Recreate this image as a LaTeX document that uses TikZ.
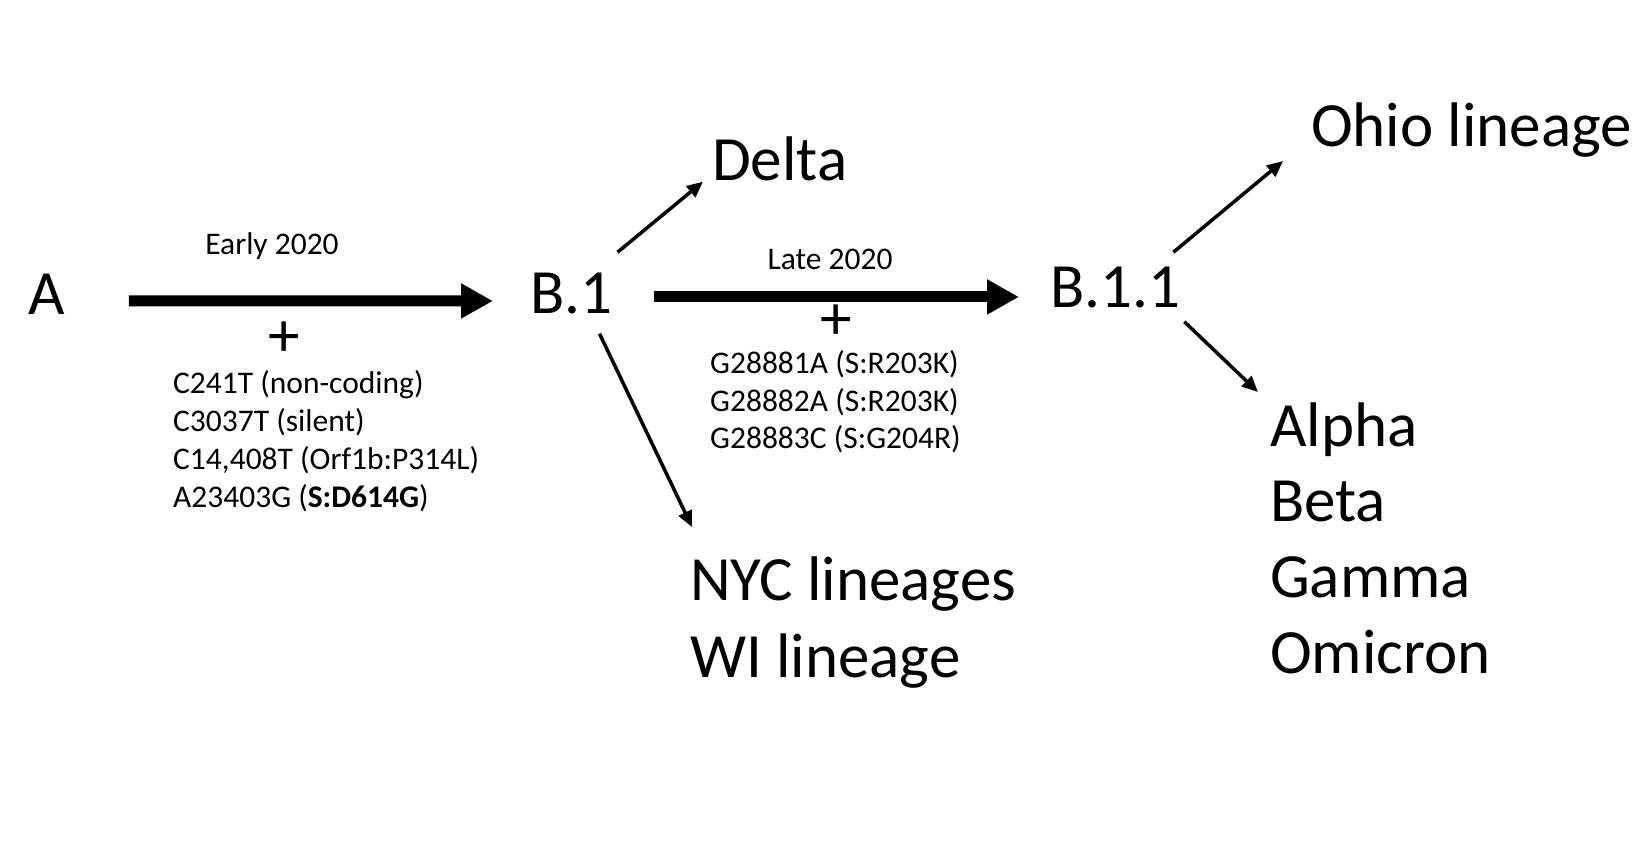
\documentclass[tikz,border=0pt]{standalone}
\usepackage{fontspec}
\setmainfont{Carlito}
\usetikzlibrary{arrows.meta}

\begin{document}
\begin{tikzpicture}[x=1pt, y=-1pt,
        big/.style={inner sep=0pt, font=\fontsize{63}{75}\selectfont},
        small/.style={inner sep=0pt, font=\fontsize{31.5}{38}\selectfont},
        fat/.style={line width=11pt, -{Triangle[length=32pt,width=33pt]}},
        branch/.style={line width=3.5pt, -{Triangle[length=16pt,width=14pt]}}]
                        \useasboundingbox (0,0) rectangle (1646,842);
                        % lineages
                        \node[big, anchor=base west] (a) at (28,315) {A};
                        \node[big, anchor=base west] (b1) at (530,313) {B.1};
                        \node[big, anchor=base west] (b11) at (1050,308) {B.1.1};
                        \node[big, anchor=base west] (delta) at (712,181) {Delta};
                        \node[big, anchor=base west] (nyc) at (690,600) {NYC lineages};
                        \node[big, anchor=base west] (wi) at (690,677) {WI lineage};
                        \node[big, anchor=base west] (ohio) at (1311,147) {Ohio lineage};
                        \foreach \voc [count=\i] in {Alpha, Beta, Gamma, Omicron}
                                \node[big, anchor=base west] (voc\i) at (1270,{446+75.7*(\i-1)}) {\voc};
                        % mutations
                        \node[small, anchor=base] (early) at (272,255) {Early 2020};
                        \node[big] (plus1) at (284,339) {+};
                        \foreach \mut [count=\i] in {C241T (non-coding), C3037T (silent), {C14,408T (Orf1b:P314L)}, A23403G (\textbf{S:D614G})}
                                \node[small, anchor=base west] (ma\i) at (173,{355+38*\i}) {\mut};
                        \node[small, anchor=base] (late) at (830,270) {Late 2020};
                        \node[big] (plus2) at (836,322) {+};
                        \foreach \mut [count=\i] in {G28881A (S:R203K), G28882A (S:R203K), G28883C (S:G204R)}
                                \node[small, anchor=base west] (mb\i) at (710,{336+37.5*\i}) {\mut};
			\draw[fat, shorten <=64pt, shorten >=37pt] ([yshift=-6pt]a.east) -- ([yshift=-8pt]b1.west);
			\draw[fat, shorten <=41pt, shorten >=31pt] ([yshift=-4pt]b1.east) -- ([yshift=-9pt]b11.west);
			\draw[branch] ([xshift=5pt, yshift=20pt]b1.north east) -- ([xshift=-9pt]delta.south west);
			\draw[branch] ([xshift=-13pt, yshift=-20pt]b1.south east) -- ([xshift=2pt, yshift=29pt]nyc.north west);
			\draw[branch] ([xshift=-7pt, yshift=15pt]b11.north east) -- ([xshift=-28pt, yshift=-3pt]ohio.south west);
			\draw[branch] ([xshift=4pt, yshift=-13pt]b11.south east) -- ([xshift=-12pt, yshift=10pt]voc1.north west);
                \end{tikzpicture}
\end{document}
